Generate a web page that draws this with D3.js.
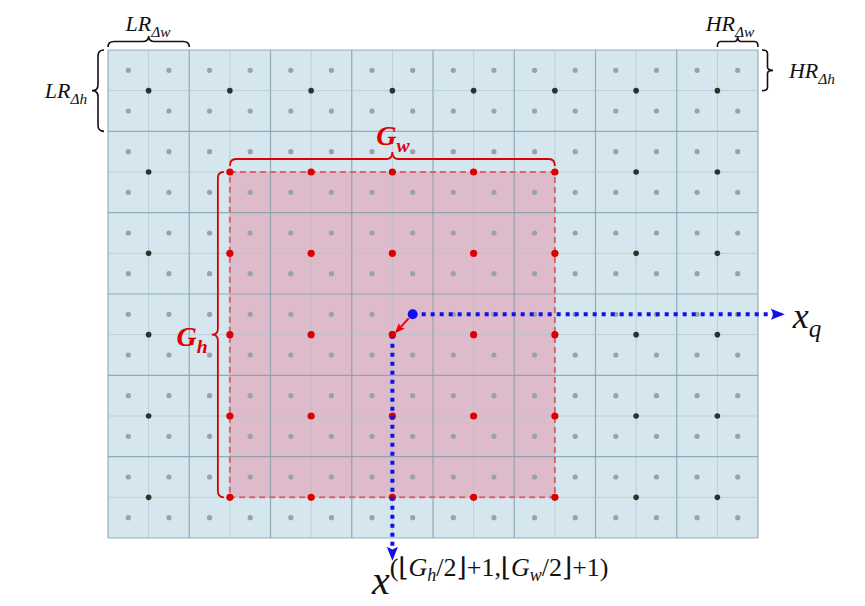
<!DOCTYPE html>
<html><head><meta charset="utf-8">
<script src="https://cdn.jsdelivr.net/npm/d3@7"></script>
<style>body{margin:0;background:#fff}text{font-family:"Liberation Serif","DejaVu Serif",serif;font-style:italic}</style>
</head><body><svg id="c" width="865" height="606"></svg>
<script>
const cols = d3.range(8);          // low-res cells across
const rows = d3.range(6);          // low-res cells down
const subs = [0.25, 0.75];         // high-res sample offsets inside a cell
const groupCols = [1, 2, 3, 4, 5]; // G_w neighbours
const groupRows = [1, 2, 3, 4, 5]; // G_h neighbours
const query = {col: 3, row: 3, sx: 0.75, sy: 0.25};

const svg = d3.select('#c');
const x = d3.scaleLinear().domain([0, 8]).range([108, 758]);
const y = d3.scaleLinear().domain([0, 6]).range([50, 538]);

svg.append('rect').attr('x', x(0)).attr('y', y(0)).attr('width', x(8) - x(0)).attr('height', y(6) - y(0))
  .attr('fill', '#d6e6ee');

// red group area
svg.append('rect').attr('x', x(1.5)).attr('y', y(1.5)).attr('width', x(5.5) - x(1.5)).attr('height', y(5.5) - y(1.5))
  .attr('fill', '#deb8c8').attr('fill-opacity', 0.95);

// half lines
const g = svg.append('g');
d3.range(0, 8.01, 0.5).forEach(v => g.append('line').attr('x1', x(v)).attr('x2', x(v)).attr('y1', y(0)).attr('y2', y(6))
  .attr('stroke', v % 1 ? '#a9c4c8' : '#7e9ea9').attr('stroke-width', v % 1 ? 0.8 : 1.2).attr('stroke-opacity', 0.8));
d3.range(0, 6.01, 0.5).forEach(v => g.append('line').attr('y1', y(v)).attr('y2', y(v)).attr('x1', x(0)).attr('x2', x(8))
  .attr('stroke', v % 1 ? '#a9c4c8' : '#7e9ea9').attr('stroke-width', v % 1 ? 0.8 : 1.2).attr('stroke-opacity', 0.8));

svg.append('rect').attr('x', x(1.5)).attr('y', y(1.5)).attr('width', x(5.5) - x(1.5)).attr('height', y(5.5) - y(1.5))
  .attr('fill', 'none').attr('stroke', '#e06070').attr('stroke-width', 2).attr('stroke-dasharray', '6,4');

const hr = [];
cols.forEach(c => rows.forEach(r => subs.forEach(sx => subs.forEach(sy => hr.push([c + sx, r + sy])))));
svg.selectAll('.hr').data(hr).join('circle').attr('cx', d => x(d[0])).attr('cy', d => y(d[1])).attr('r', 2.6).attr('fill', '#98a2ac');

const lr = [];
cols.forEach(c => rows.forEach(r => lr.push([c, r])));
const inG = d => groupCols.includes(d[0]) && groupRows.includes(d[1]);
svg.selectAll('.lr').data(lr).join('circle').attr('cx', d => x(d[0] + 0.5)).attr('cy', d => y(d[1] + 0.5))
  .attr('fill', d => inG(d) ? '#dd0000' : '#26352c').attr('r', d => inG(d) ? 3.6 : 2.8);

// arrows
const defs = svg.append('defs');
[['b', '#1010ee', 14], ['r', '#ee0000', 10]].forEach(([id, col, s]) => defs.append('marker').attr('id', id)
  .attr('viewBox', '0 0 10 10').attr('markerUnits', 'userSpaceOnUse')
  .attr('refX', 8).attr('refY', 5).attr('markerWidth', s).attr('markerHeight', s).attr('orient', 'auto')
  .append('path').attr('d', 'M0,1L10,5L0,9L2,5z').attr('fill', col));

const qx = x(query.col + query.sx), qy = y(query.row + query.sy);
const rx = x(query.col + 0.5), ry = y(query.row + 0.5);
svg.append('line').attr('x1', qx).attr('y1', qy).attr('x2', 782).attr('y2', qy).attr('stroke', '#1010ee')
  .attr('stroke-width', 4).attr('stroke-dasharray', '4,5').attr('marker-end', 'url(#b)');
svg.append('line').attr('x1', rx).attr('y1', ry).attr('x2', rx).attr('y2', 558).attr('stroke', '#1010ee')
  .attr('stroke-width', 4).attr('stroke-dasharray', '4,5').attr('marker-end', 'url(#b)');
svg.append('line').attr('x1', qx - 4).attr('y1', qy + 4).attr('x2', rx + 4).attr('y2', ry - 3).attr('stroke', '#ee0000')
  .attr('stroke-width', 2).attr('marker-end', 'url(#r)');
svg.append('circle').attr('cx', qx).attr('cy', qy).attr('r', 5).attr('fill', '#1010ee');
svg.append('circle').attr('cx', rx).attr('cy', ry).attr('r', 3.6).attr('fill', '#dd0000');

// curly brace, from (x1,y1) to (x2,y2), bulging to the left of travel direction by w
function brace(x1, y1, x2, y2, w) {
  const len = Math.hypot(x2 - x1, y2 - y1), ux = (x2 - x1) / len, uy = (y2 - y1) / len;
  const nx = uy * w, ny = -ux * w;
  const p = (t, k) => [x1 + ux * len * t + nx * k, y1 + uy * len * t + ny * k];
  const q = 0.5, e0 = Math.min(0.08, 6 / len);
  const [a, b, c, d, e, f, m, h, i] = [p(0, 0), p(0, 0.5), p(e0, 0.5), p(q - e0, 0.5), p(q, 0.5), p(q, 1),
    p(q + e0, 0.5), p(1 - e0, 0.5), p(1, 0.5)];
  const z = p(1, 0);
  return `M${a}Q${b} ${c}L${d}Q${e} ${f}Q${e} ${m}L${h}Q${i} ${z}`;
}
const braceG = svg.append('g').attr('fill', 'none');
braceG.append('path').attr('d', brace(x(0), y(0) - 3, x(1), y(0) - 3, 11)).attr('stroke', '#111').attr('stroke-width', 1.6);
braceG.append('path').attr('d', brace(x(0) - 4, y(1), x(0) - 4, y(0), 12)).attr('stroke', '#111').attr('stroke-width', 1.6);
braceG.append('path').attr('d', brace(x(7.5), y(0) - 3, x(8), y(0) - 3, 11)).attr('stroke', '#111').attr('stroke-width', 1.6);
braceG.append('path').attr('d', brace(x(8) + 4, y(0), x(8) + 4, y(0.5), 11)).attr('stroke', '#111').attr('stroke-width', 1.6);
braceG.append('path').attr('d', brace(x(1.5), y(1.5) - 6, x(5.5), y(1.5) - 6, 14)).attr('stroke', '#dd0000').attr('stroke-width', 1.8);
braceG.append('path').attr('d', brace(x(1.5) - 6, y(5.5), x(1.5) - 6, y(1.5), 12)).attr('stroke', '#dd0000').attr('stroke-width', 1.8);

function label(tx, ty, main, sub, size, col, bold) {
  const t = svg.append('text').attr('x', tx).attr('y', ty).attr('font-size', size).attr('fill', col)
    .attr('text-anchor', 'middle').attr('font-weight', bold ? 'bold' : 'normal');
  t.append('tspan').text(main);
  t.append('tspan').attr('font-size', size * 0.7).attr('dy', size * 0.25).text(sub);
}
label(148, 31, 'LR', 'Δw', 22, '#111');
label(66, 98, 'LR', 'Δh', 22, '#111');
label(730, 31, 'HR', 'Δw', 22, '#111');
label(812, 78, 'HR', 'Δh', 22, '#111');
label(393, 145, 'G', 'w', 28, '#dd0000', true);
label(192, 346, 'G', 'h', 28, '#dd0000', true);
label(807, 328, 'x', 'q', 36, '#111');
const t = svg.append('text').attr('x', 372).attr('y', 594).attr('font-size', 40).attr('fill', '#111');
t.append('tspan').text('x');
t.append('tspan').attr('dy', -18).attr('font-size', 26).attr('font-style', 'normal').text('(⌊');
t.append('tspan').attr('font-size', 26).text('G');
t.append('tspan').attr('font-size', 18).attr('dy', 5).text('h');
t.append('tspan').attr('font-size', 26).attr('dy', -5).attr('font-style', 'normal').text('/2⌋+1,⌊');
t.append('tspan').attr('font-size', 26).text('G');
t.append('tspan').attr('font-size', 18).attr('dy', 5).text('w');
t.append('tspan').attr('font-size', 26).attr('dy', -5).attr('font-style', 'normal').text('/2⌋+1)');
</script></body></html>
